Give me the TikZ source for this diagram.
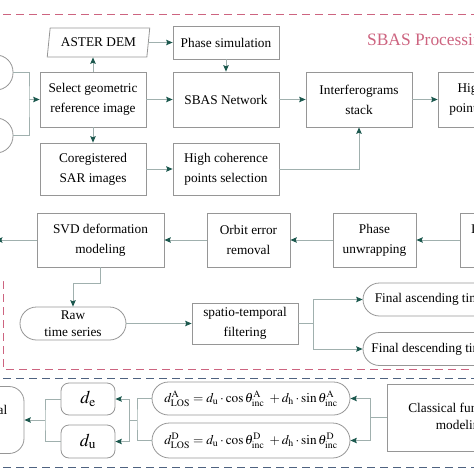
\documentclass[tikz,border=0pt]{standalone}
\usepackage{mathptmx}
\usepackage{fontspec}
\setmainfont{Liberation Serif}
\usetikzlibrary{arrows.meta,shapes.geometric}

\definecolor{boxgray}{RGB}{150,150,150}
\definecolor{linegray}{RGB}{160,176,174}
\definecolor{tipteal}{RGB}{28,88,78}
\definecolor{sbaspink}{RGB}{205,100,128}
\definecolor{slateblue}{RGB}{78,98,128}

\begin{document}
\begin{tikzpicture}[x=1pt,y=-1pt,
  every node/.style={font=\fontsize{13.3}{20}\selectfont, inner sep=1pt},
  box/.style={draw=boxgray, line width=0.8pt, align=center, minimum width=106, minimum height=55},
  stadium/.style={box, rounded corners=16.5, minimum height=33},
  rbox/.style={box, rounded corners=8},
  conn/.style={draw=linegray, line width=0.8pt},
  arr/.style={conn, -{Stealth[length=6.5pt,width=5.5pt,inset=1.2pt,color=tipteal]}},
  pinkdash/.style={draw=sbaspink, line width=0.9pt, dash pattern=on 8pt off 5pt},
  bluedash/.style={draw=slateblue, line width=0.9pt, dash pattern=on 8pt off 5pt}]
\clip (0,0) rectangle (474,474);

% frames
\draw [pinkdash] (-10,14) -- (484,14);
\draw [pinkdash] (-10,281) -- (3,281) -- (3,369) -- (484,369);
\draw [bluedash] (-10,378) -- (484,378);
\draw [bluedash] (-10,467) -- (484,467);
\node [text=sbaspink, anchor=west, font=\fontsize{17.4}{20}\selectfont] (sbastitle) at (366,42) {SBAS Processing};

% row 1
\node [stadium, minimum width=66, minimum height=35, rounded corners=17] (inA) at (-20,72.5) {};
\node [stadium, minimum width=66, minimum height=35, rounded corners=17] (inB) at (-20,135.5) {};
\node [box] (select) at (93,99.5) {Select geometric\\reference image};
\node [draw=boxgray, line width=0.8pt, trapezium, trapezium left angle=78, trapezium right angle=102,
  trapezium stretches=true, minimum width=103, minimum height=29] (aster) at (98.5,42.5) {ASTER DEM};
\node [box, minimum height=33] (phase) at (226,42.5) {Phase simulation};
\node [box] (sbas) at (226,99.5) {SBAS Network};
\node [box] (interf) at (359,99.5) {Interferograms\\stack};
\node [box] (hiq) at (491,99.5) {High quality\\points selection};
\node [box, minimum height=52] (coreg) at (93,169) {Coregistered\\SAR images};
\node [box, minimum height=52] (highcoh) at (226,169) {High coherence\\points selection};

\coordinate (jin) at (29,99.5);
\draw [conn] (inA.east) -| (jin) |- (inB.east);
\draw [arr] (jin) -- (select.west);
\draw [arr] (select.north) -- (select.north |- aster.south);
\draw [arr] (aster.east) -- (phase.west);
\draw [arr] (phase.south) -- (sbas.north);
\draw [arr] (select.east) -- (sbas.west);
\draw [arr] (sbas.east) -- (interf.west);
\draw [arr] (interf.east) -- (hiq.west);
\draw [arr] (select.south) -- (coreg.north);
\draw [arr] (coreg.east) -- (highcoh.west);
\draw [arr] (highcoh.east) -| (interf.south);

% row 2
\node [box, minimum width=127, minimum height=54] (svd) at (100.5,240) {SVD deformation\\modeling};
\node [box, minimum width=83, minimum height=54] (orbit) at (248.5,240) {Orbit error\\removal};
\node [box, minimum width=83, minimum height=54] (unwrap) at (374.5,240) {Phase\\unwrapping};
\node [box, minimum width=96, minimum height=54] (filt) at (508,240) {Interferogram\\filtering};
\node [stadium] (raw) at (73,323.5) {Raw\\[-3pt]time series};
\node [box, minimum height=41] (spatio) at (245,323.5) {spatio-temporal\\filtering};
\node [stadium, minimum width=168] (fasc) at (447,299.5) {Final ascending time series};
\node [stadium, minimum width=168] (fdesc) at (447,349) {Final descending time series};

\coordinate (outL) at (-4,240);
\coordinate (bend) at (73,283);
\coordinate (jsp) at (313,323.5);
\draw [arr] (filt.west) -- (unwrap.east);
\draw [arr] (unwrap.west) -- (orbit.east);
\draw [arr] (orbit.west) -- (svd.east);
\draw [arr] (svd.west) -- (outL);
\draw [arr] (svd.south) |- (bend) -- (raw.north);
\draw [arr] (raw.east) -- (spatio.west);
\draw [conn] (spatio.east) -- (jsp);
\draw [arr] (jsp) |- (fasc.west);
\draw [arr] (jsp) |- (fdesc.west);

% row 3
\node [box, rounded corners=15, minimum width=156, minimum height=67] (vert) at (-54,420) {Horizontal and vertical\\deformation};
\node [rbox, minimum width=54, minimum height=32, font=\fontsize{18}{20}\selectfont] (de) at (88,399) {$d_{\mathrm{e}}$};
\node [rbox, minimum width=54, minimum height=33, font=\fontsize{18}{20}\selectfont] (du) at (88,441.5) {$d_{\mathrm{u}}$};
\node [stadium, minimum width=198] (eqA) at (251,398.5)
  {$d_{\mathrm{LOS}}^{\mathrm{A}} = d_{\mathrm{u}}\cdot\cos\theta_{\mathrm{inc}}^{\mathrm{A}}\ + d_{\mathrm{h}}\cdot\sin\theta_{\mathrm{inc}}^{\mathrm{A}}$};
\node [stadium, minimum width=198, minimum height=35, rounded corners=17.5] (eqD) at (251,440.5)
  {$d_{\mathrm{LOS}}^{\mathrm{D}} = d_{\mathrm{u}}\cdot\cos\theta_{\mathrm{inc}}^{\mathrm{D}}\ + d_{\mathrm{h}}\cdot\sin\theta_{\mathrm{inc}}^{\mathrm{D}}$};
\node [box, minimum width=148, minimum height=67] (classic) at (461,417.5) {Classical functional\\[-3pt]modeling};

\coordinate (jcl) at (370,417.5);
\coordinate (jeq) at (137,420);
\coordinate (jd) at (129,420);
\coordinate (jde) at (45,420);
\draw [conn] (classic.west) -- (jcl);
\draw [arr] (jcl) |- (eqA.east);
\draw [arr] (jcl) |- (eqD.east);
\draw [conn] (eqA.west) -| (jeq) |- (eqD.west);
\draw [conn] (jeq) -- (jd);
\draw [arr] (jd) |- (de.east);
\draw [arr] (jd) |- (du.east);
\draw [conn] (de.west) -| (jde) |- (du.west);
\draw [arr] (jde) -- (vert.east);

\end{tikzpicture}
\end{document}
